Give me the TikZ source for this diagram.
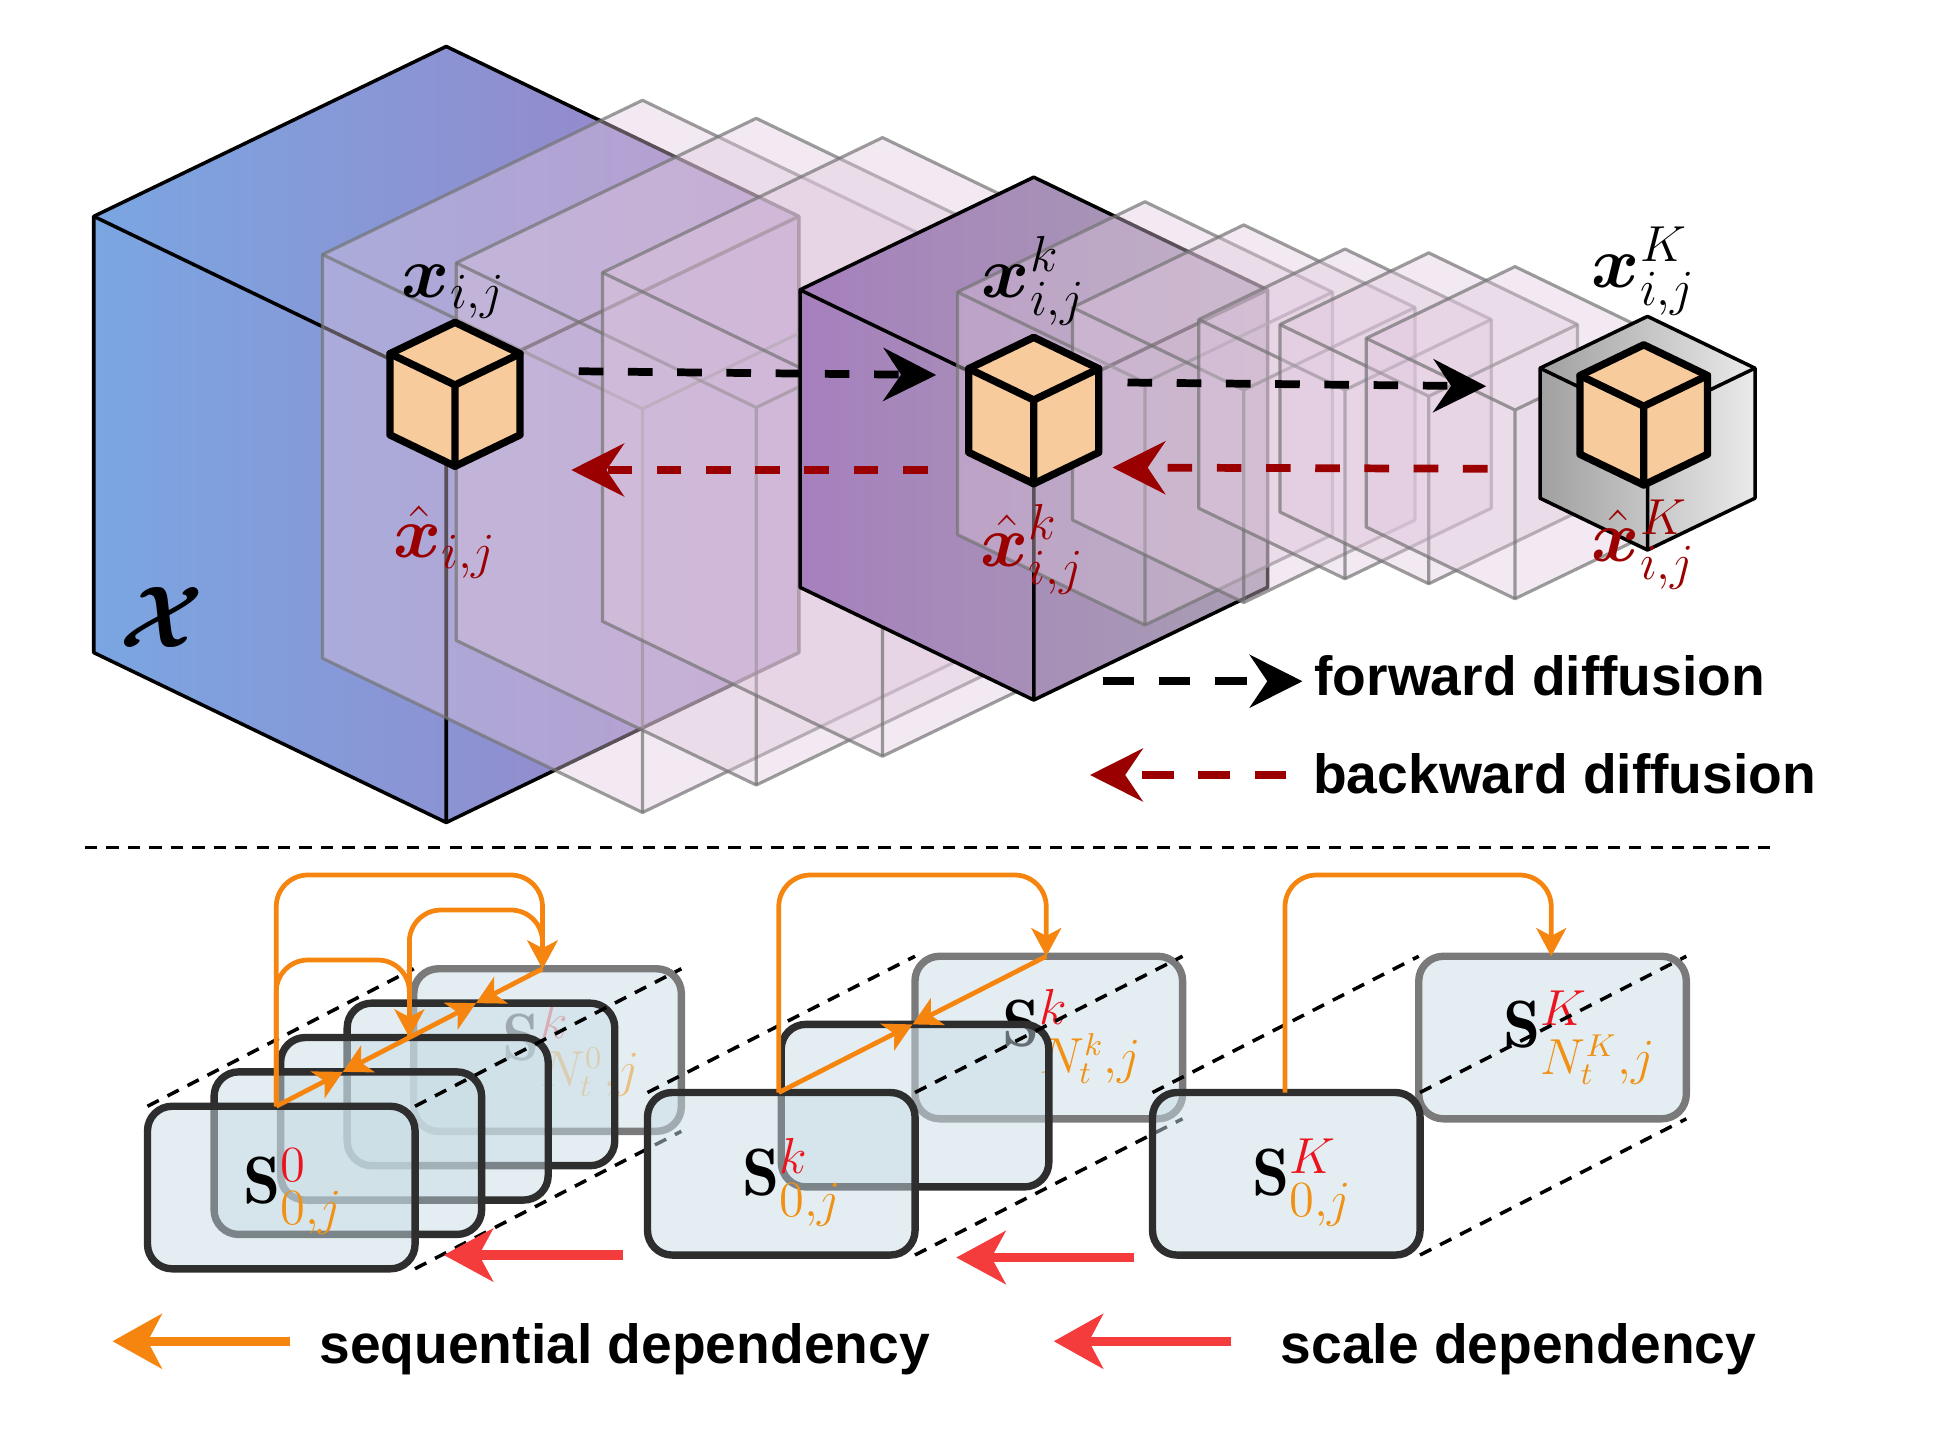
\documentclass[tikz,border=0pt]{standalone}
\usepackage{amsmath}
\usepackage{fontspec}
\setsansfont{Liberation Sans}
\usepackage{bm}
\usetikzlibrary{arrows.meta}

\definecolor{xblue}{RGB}{122,166,226}
\definecolor{xpurple}{RGB}{158,128,196}
\definecolor{kpurpleL}{RGB}{166,128,189}
\definecolor{kpurpleR}{RGB}{168,158,178}
\definecolor{slab}{RGB}{224,200,222}
\definecolor{cubeor}{RGB}{248,203,156}
\definecolor{bwred}{RGB}{155,0,0}
\definecolor{seqor}{RGB}{245,133,15}
\definecolor{scred}{RGB}{245,60,60}
\definecolor{supred}{RGB}{235,20,30}
\definecolor{subor}{RGB}{240,145,20}
\definecolor{boxfill}{RGB}{201,221,229}
\definecolor{boxdark}{RGB}{46,46,46}
\definecolor{boxgray}{RGB}{122,122,122}

% #1 face style, #2 edge style, #3 cx, #4 cy (front vertex), #5 half width, #6 vertical edge
\newcommand{\isocube}[6]{%
  \path[#1] ({#3-#5},{#4-0.482*#5}) -- ({#3},{#4-0.964*#5}) -- ({#3+#5},{#4-0.482*#5}) -- ({#3+#5},{#4-0.482*#5+#6}) -- ({#3},{#4+#6}) -- ({#3-#5},{#4-0.482*#5+#6}) -- cycle;
  \path[#2] ({#3-#5},{#4-0.482*#5}) -- ({#3},{#4}) -- ({#3+#5},{#4-0.482*#5}) ({#3},{#4}) -- ({#3},{#4+#6});
}
\newcommand{\Slabel}[2]{$\mathbf{S}^{\textcolor{supred}{#1}}_{\textcolor{subor}{#2}}$}

\begin{document}
\begin{tikzpicture}[x=0.0125cm, y=-0.0125cm,
  bigX/.style={draw=black, line width=1pt, line join=round, left color=xblue, right color=xpurple},
  kcube/.style={draw=black, line width=1pt, line join=round, left color=kpurpleL, right color=kpurpleR},
  graycube/.style={draw=black, line width=1pt, line join=round, left color={rgb,255:red,160;green,160;blue,160}, right color={rgb,255:red,234;green,234;blue,234}},
  bigedge/.style={draw=black, line width=1pt},
  slabface/.style={fill=slab, fill opacity=0.4, draw=black!55, draw opacity=0.7, line width=0.9pt, line join=round},
  slabedge/.style={draw=black!55, draw opacity=0.7, line width=0.9pt},
  orface/.style={fill=cubeor, draw=black, line width=2.1pt, line join=round},
  oredge/.style={draw=black, line width=2.1pt, line cap=round},
  lbl/.style={inner sep=0pt, font=\fontsize{21}{25}\selectfont},
  fwd/.style={draw=black, line width=2.2pt, dash pattern=on 7pt off 7pt, -{Stealth[length=15pt,width=15pt,inset=5pt]}},
  bwd/.style={draw=bwred, line width=2.2pt, dash pattern=on 7pt off 7pt, -{Stealth[length=15pt,width=15pt,inset=5pt]}},
  legtxt/.style={inner sep=0pt, anchor=base west, font=\sffamily\bfseries\fontsize{15.7}{18}\selectfont},
  sepline/.style={draw=black, line width=0.9pt, dash pattern=on 3.5pt off 2.6pt},
  sbox/.style={rectangle, rounded corners=7pt, minimum width=2.675cm, minimum height=1.625cm, inner sep=0pt, outer sep=0pt, fill=boxfill, fill opacity=0.5, line width=2.1pt, anchor=north west},
  frontbox/.style={sbox, draw=boxdark},
  backbox/.style={sbox, draw=boxgray},
  slbl/.style={inner sep=0pt, font=\fontsize{19}{22}\selectfont},
  diag/.style={draw=black, line width=1pt, dash pattern=on 3.6pt off 2.8pt},
  seq/.style={draw=seqor, line width=1.35pt, -{Stealth[length=8pt,width=8.5pt,inset=2.2pt]}},
  scalearr/.style={draw=scred, line width=2.8pt, -{Stealth[length=14pt,width=15pt,inset=4pt]}},
  seqleg/.style={draw=seqor, line width=2.7pt, -{Stealth[length=14pt,width=15.5pt,inset=4pt]}},
  scaleleg/.style={draw=scred, line width=2.7pt, -{Stealth[length=14pt,width=15.5pt,inset=4pt]}}
]
\useasboundingbox (0,0) rectangle (1561.6,1164.8);

% ---------------- top: cubes and slabs ----------------
\isocube{bigX}{bigedge}{357}{309}{282}{349}
\isocube{slabface}{slabedge}{514}{327}{256}{323}
\isocube{slabface}{slabedge}{605}{326}{240}{302}
\isocube{slabface}{slabedge}{706}{326}{224}{279}
\isocube{kcube}{bigedge}{827}{322}{187}{238}
\isocube{slabface}{slabedge}{916}{306}{150}{194}
\isocube{slabface}{slabedge}{995}{312}{137}{170}
\isocube{slabface}{slabedge}{1076}{312}{117}{151}
\isocube{slabface}{slabedge}{1143}{317}{119}{150}
\isocube{slabface}{slabedge}{1212}{328}{119}{151}
\isocube{graycube}{bigedge}{1318}{336}{86}{104}
\isocube{orface}{oredge}{364}{308}{52}{65}
\isocube{orface}{oredge}{827}{320}{52}{67}
\isocube{orface}{oredge}{1315}{325}{51}{63}

% labels
\node[lbl, anchor=center] (lX) at (129,494) {\fontsize{25}{28}\selectfont$\bm{\mathcal{X}}$};
\node[lbl, anchor=base west] (lx0) at (321,238) {$\bm{x}_{i,j}$};
\node[lbl, anchor=base west, text=bwred] (lxh0) at (314,446) {$\bm{\hat{x}}_{i,j}$};
\node[lbl, anchor=base west] (lxk) at (785,238) {$\bm{x}^{k}_{i,j}$};
\node[lbl, anchor=base west, text=bwred] (lxhk) at (784,453) {$\bm{\hat{x}}^{k}_{i,j}$};
\node[lbl, anchor=base west] (lxK) at (1273,230) {$\bm{x}^{K}_{i,j}$};
\node[lbl, anchor=base west, text=bwred] (lxhK) at (1273,449) {$\bm{\hat{x}}^{K}_{i,j}$};

% diffusion arrows
\coordinate (f1a) at (463,297); \coordinate (f1b) at (749,300);
\coordinate (b1a) at (742,376); \coordinate (b1b) at (457,376);
\coordinate (f2a) at (902,306); \coordinate (f2b) at (1189,309);
\coordinate (b2a) at (1190,375); \coordinate (b2b) at (890,374);
\draw[fwd] (f1a) -- (f1b);
\draw[bwd] (b1a) -- (b1b);
\draw[fwd] (f2a) -- (f2b);
\draw[bwd] (b2a) -- (b2b);

% legend top
\coordinate (lfa) at (882,545); \coordinate (lfb) at (1042,545);
\coordinate (lba) at (1029,620); \coordinate (lbb) at (872,620);
\draw[fwd, dash pattern=on 9pt off 7pt] (lfa) -- (lfb);
\draw[bwd, dash pattern=on 9pt off 7pt] (lba) -- (lbb);
\node[legtxt] (tfwd) at (1051,556) {forward diffusion};
\node[legtxt] (tbwd) at (1050,635) {backward diffusion};

% separator
\coordinate (sepL) at (68,678); \coordinate (sepR) at (1421,678);
\draw[sepline] (sepL) -- (sepR);

% ---------------- bottom: group 0 ----------------
\node[backbox] (g0s4) at (331,775) {};
\node[slbl, text opacity=0.5] (g0l4) at (458,840) {\Slabel{k}{N_t^0,j}};
\node[frontbox] (g0s3) at (277.75,802.5) {};
\node[frontbox] (g0s2) at (224.5,830) {};
\node[frontbox] (g0s1) at (171.25,857.5) {};
\coordinate (g0TL) at (118,885); \coordinate (g0TR) at (332,885); \coordinate (g0BR) at (332,1015);
\draw[diag] (g0TL) -- (g0s4.north west);
\draw[diag] (g0TR) -- (g0s4.north east);
\draw[diag] (g0BR) -- (g0s4.south east);
\node[frontbox] (g0s0) at (118,885) {};
\node[slbl] (g0l0) at (235,953) {\Slabel{0}{0,j}};

% group k
\node[backbox] (g1s2) at (732,765) {};
\node[slbl] (g1l2) at (858,829) {\Slabel{k}{N_t^k,j}};
\node[frontbox] (g1s1) at (625,819.5) {};
\coordinate (g1TL) at (518,874); \coordinate (g1TR) at (732,874); \coordinate (g1BR) at (732,1004);
\draw[diag] (g1TL) -- (g1s2.north west);
\draw[diag] (g1TR) -- (g1s2.north east);
\draw[diag] (g1BR) -- (g1s2.south east);
\node[frontbox] (g1s0) at (518,874) {};
\node[slbl] (g1l0) at (634,946) {\Slabel{k}{0,j}};

% group K
\node[backbox] (g2s1) at (1135,765) {};
\node[slbl] (g2l1) at (1264,830) {\Slabel{K}{N_t^K,j}};
\coordinate (g2TL) at (922,874); \coordinate (g2TR) at (1136,874); \coordinate (g2BR) at (1136,1004);
\draw[diag] (g2TL) -- (g2s1.north west);
\draw[diag] (g2TR) -- (g2s1.north east);
\draw[diag] (g2BR) -- (g2s1.south east);
\node[frontbox] (g2s0) at (922,874) {};
\node[slbl] (g2l0) at (1042,946) {\Slabel{K}{0,j}};

% scale dependency arrows
\coordinate (r1a) at (498,1004); \coordinate (r1b) at (355,1004);
\coordinate (r2a) at (907,1006); \coordinate (r2b) at (765,1006);
\draw[scalearr] (r1a) -- (r1b);
\draw[scalearr] (r2a) -- (r2b);

% sequential dependency arrows, group 0
\coordinate (O0) at (221,885);
\coordinate (J1) at (274.25,857.5);
\coordinate (J2) at (327.5,830);
\coordinate (J3) at (380.75,802.5);
\coordinate (J4) at (434,775);
\coordinate (g0top) at (434,700);
\coordinate (g0mid) at (327.5,768);
\coordinate (g0inn) at (434,728);
\draw[seq, rounded corners=9pt] (O0) |- (g0top) -- (J4);
\draw[seq, rounded corners=9pt] (O0) |- (g0mid) -- (J2);
\draw[seq, rounded corners=9pt] (J2) |- (g0inn) -- (J4);
\draw[seq] (O0) -- (J1);
\draw[seq] (J2) -- (J1);
\draw[seq] (J2) -- (J3);
\draw[seq] (J4) -- (J3);

% group k
\coordinate (O1) at (623,874);
\coordinate (Jm) at (730,819.5);
\coordinate (Jb) at (837,765);
\coordinate (g1top) at (837,700);
\draw[seq, rounded corners=9pt] (O1) |- (g1top) -- (Jb);
\draw[seq] (O1) -- (Jm);
\draw[seq] (Jb) -- (Jm);

% group K
\coordinate (O2) at (1028,874);
\coordinate (Jb2) at (1241,765);
\coordinate (g2top) at (1241,700);
\draw[seq, rounded corners=9pt] (O2) |- (g2top) -- (Jb2);

% legend bottom
\coordinate (lsa) at (232,1073); \coordinate (lsb) at (90,1073);
\coordinate (lca) at (985,1073); \coordinate (lcb) at (843,1073);
\draw[seqleg] (lsa) -- (lsb);
\draw[scaleleg] (lca) -- (lcb);
\node[legtxt] (tseq) at (255,1091) {sequential dependency};
\node[legtxt] (tscale) at (1024,1091) {scale dependency};
\end{tikzpicture}
\end{document}
